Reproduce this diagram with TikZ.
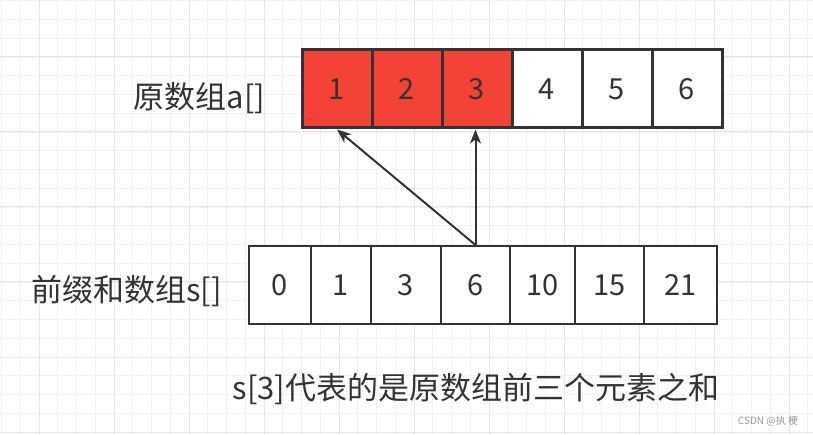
\documentclass[tikz,border=0pt]{standalone}
\usepackage{fontspec}
\setmainfont{Noto Sans CJK SC}
\usetikzlibrary{positioning,arrows.meta}
\definecolor{ink}{HTML}{333333}
\definecolor{hot}{HTML}{F44336}
\definecolor{gridmin}{HTML}{F2F2F2}
\definecolor{gridmaj}{HTML}{E6E6E6}

\begin{document}
\begin{tikzpicture}[
  x=1pt, y=-1pt,
  font=\fontsize{29}{32}\selectfont,
  cell/.style={draw=ink, line width=3pt, minimum height=78pt, inner sep=0pt, text=ink},
  sumcell/.style={draw=ink, line width=2pt, minimum height=78pt, inner sep=0pt, text=ink},
  lab/.style={text=ink, inner sep=0pt, font=\fontsize{31}{34}\selectfont},
  arr/.style={-{Stealth[length=14pt, width=11pt, inset=4pt]}, line width=2pt, draw=ink}
]
\useasboundingbox (0,0) rectangle (813,435);
\fill[white] (0,0) rectangle (813,435);

% background grid
\foreach \i in {0,...,43} \draw[gridmin, line width=0.8pt] ({1.5+18.75*\i},0) -- ++(0,435);
\foreach \i in {0,...,23} \draw[gridmin, line width=0.8pt] (0,{0.75+18.75*\i}) -- ++(813,0);
\foreach \i in {0,...,10} \draw[gridmaj, line width=1pt] ({39+75*\i},0) -- ++(0,435);
\foreach \i in {0,...,5} \draw[gridmaj, line width=1pt] (0,{57+75*\i}) -- ++(813,0);

% original array a[]
\foreach \v in {1,...,6} {
  \ifnum\v<4
    \node[cell, fill=hot, minimum width=70pt] (a\v) at ({267+70*\v},89) {\v};
  \else
    \node[cell, fill=white, minimum width=70pt] (a\v) at ({267+70*\v},89) {\v};
  \fi
}
\node[lab, left=35pt of a1, yshift=-9pt] (alab) {原数组a[]};

% prefix sum array s[]
\foreach \l/\r/\v [count=\i from 0] in {249/311/0, 311/371/1, 371/441/3, 441/510/6, 510/575/10, 575/644/15, 644/717/21}
  \node[sumcell, fill=white, minimum width={\r-\l}] (s\i) at ({(\l+\r)/2},285) {\v};
\node[lab, left=26pt of s0, yshift=-6pt] (slab) {前缀和数组s[]};

% arrows
\draw[arr] (s3.north) -- (a1.south);
\draw[arr] (s3.north) -- (s3.north |- a3.south);

% note
\node[lab] (note) at (476,389) {s[3]代表的是原数组前三个元素之和};
\node[lab, font=\fontsize{10}{12}\selectfont, text=black!40] (mark) at (768,421) {CSDN @执 梗};
\end{tikzpicture}
\end{document}
